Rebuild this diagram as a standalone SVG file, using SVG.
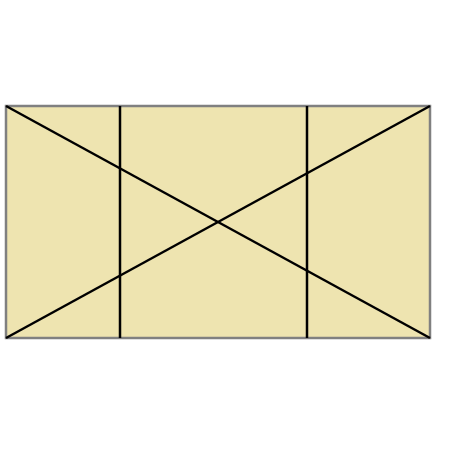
<svg xmlns="http://www.w3.org/2000/svg" width="450" height="450" viewBox="0 0 450 450">
<style>
.box{fill:#EEE4B0;stroke:#808080;stroke-width:2.5}
.ln{stroke:#000;stroke-width:2.5;fill:none}
</style>
<rect width="450" height="450" fill="#fff"/>
<g id="frame"><rect class="box" x="6" y="106" width="424" height="232"/></g>
<g id="lines">
<line class="ln" x1="120" y1="106" x2="120" y2="338"/>
<line class="ln" x1="307" y1="106" x2="307" y2="338"/>
<line class="ln" x1="6" y1="106" x2="430" y2="338"/>
<line class="ln" x1="6" y1="338" x2="430" y2="106"/>
</g>
</svg>
